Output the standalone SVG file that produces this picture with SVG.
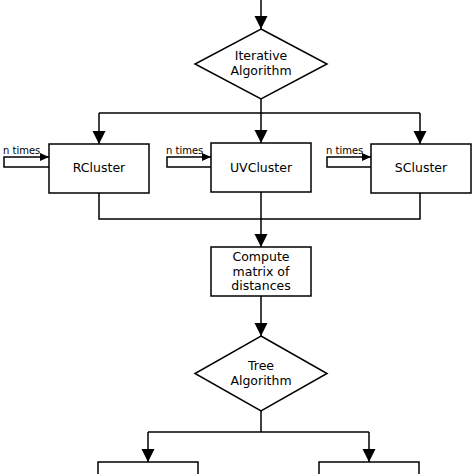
<svg xmlns="http://www.w3.org/2000/svg" width="474" height="474" viewBox="0 0 474 474">
<style>
.shape{fill:#fff;stroke:#000;stroke-width:1.5}
.c{fill:none;stroke:#000;stroke-width:1.5}
text{font-family:"DejaVu Sans",sans-serif;fill:#000}
.lbl{font-size:12.5px;text-anchor:middle}
.small{font-size:10px}
</style>
<defs>
<marker id="ah" markerUnits="userSpaceOnUse" markerWidth="13" markerHeight="14" refX="13" refY="6.5" orient="auto">
<path d="M0,0 L13,6.5 L0,13 Z" fill="#000"/>
</marker>
<marker id="sh" markerUnits="userSpaceOnUse" markerWidth="9" markerHeight="8" refX="9" refY="4" orient="auto">
<path d="M0,0 L9,4 L0,8 Z" fill="#000"/>
</marker>
</defs>
<g id="connectors">
<path class="c" d="M261,0 V29" marker-end="url(#ah)"/>
<path class="c" d="M261,99 V113"/>
<path class="c" d="M99,113 H420"/>
<path class="c" d="M99,113 V144" marker-end="url(#ah)"/>
<path class="c" d="M261,113 V143" marker-end="url(#ah)"/>
<path class="c" d="M420,113 V144" marker-end="url(#ah)"/>
<path class="c" d="M49,167 H4 V157 H49" marker-end="url(#sh)"/>
<path class="c" d="M211,167 H167 V157 H211" marker-end="url(#sh)"/>
<path class="c" d="M371,167 H327 V157 H371" marker-end="url(#sh)"/>
<path class="c" d="M99,193 V219 H420 V193"/>
<path class="c" d="M261,192 V247" marker-end="url(#ah)"/>
<path class="c" d="M261,296 V336" marker-end="url(#ah)"/>
<path class="c" d="M261,411 V432"/>
<path class="c" d="M148,432 H369"/>
<path class="c" d="M148,432 V462" marker-end="url(#ah)"/>
<path class="c" d="M369,432 V462" marker-end="url(#ah)"/>
</g>
<g id="iterative">
<polygon class="shape" points="261,29 327,64 261,99 195,64"/>
<text class="lbl" x="261" y="60">Iterative</text>
<text class="lbl" x="261" y="75">Algorithm</text>
</g>
<g id="rcluster">
<rect class="shape" x="49" y="144" width="100" height="49"/>
<text class="lbl" x="99" y="172">RCluster</text>
<text class="small" x="3" y="154">n times</text>
</g>
<g id="uvcluster">
<rect class="shape" x="211" y="143" width="100" height="49"/>
<text class="lbl" x="261" y="172">UVCluster</text>
<text class="small" x="166" y="154">n times</text>
</g>
<g id="scluster">
<rect class="shape" x="371" y="144" width="100" height="49"/>
<text class="lbl" x="421" y="172">SCluster</text>
<text class="small" x="326" y="154">n times</text>
</g>
<g id="compute">
<rect class="shape" x="211" y="247" width="100" height="49"/>
<text class="lbl" x="261" y="261">Compute</text>
<text class="lbl" x="261" y="275.5">matrix of</text>
<text class="lbl" x="261" y="290">distances</text>
</g>
<g id="tree">
<polygon class="shape" points="261,336 327,373.5 261,411 195,373.5"/>
<text class="lbl" x="261" y="370">Tree</text>
<text class="lbl" x="261" y="385">Algorithm</text>
</g>
<g id="leftbottom">
<rect class="shape" x="98" y="462" width="100" height="30"/>
</g>
<g id="rightbottom">
<rect class="shape" x="319" y="462" width="100" height="30"/>
</g>
</svg>
